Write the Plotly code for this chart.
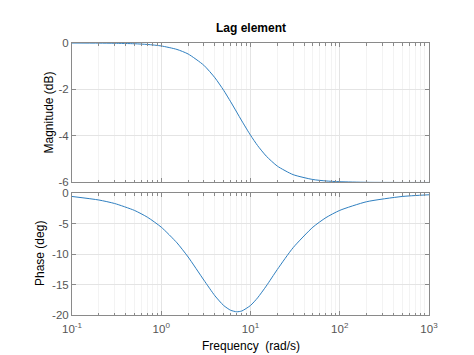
import plotly.graph_objects as go

# Data
freq = [0.1, 0.2, 0.3, 0.5, 0.7, 1, 1.5, 2, 3, 4, 5, 6, 7, 8, 10, 12, 15, 20, 30, 50, 70, 100, 200, 500, 1000]
magnitude_db = [-0.001, -0.005, -0.012, -0.032, -0.063, -0.127, -0.278, -0.474, -0.961, -1.504, -2.041,
                -2.539, -2.981, -3.366, -3.979, -4.426, -4.881, -5.315, -5.682, -5.893, -5.955, -5.988,
                -6.013, -6.020, -6.020]
phase_deg = [-0.57, -1.15, -1.72, -2.85, -3.97, -5.60, -8.17, -10.49, -14.27, -16.86, -18.44, -19.23,
             -19.47, -19.34, -18.44, -17.19, -15.26, -12.53, -8.97, -5.60, -4.04, -2.85, -1.43, -0.57, -0.29]

x_tickvals = [0.1, 1, 10, 100, 1000]
x_ticktext = ["10<sup>-1</sup>", "10<sup>0</sup>", "10<sup>1</sup>", "10<sup>2</sup>", "10<sup>3</sup>"]
mag_ticks = [0, -2, -4, -6]
phase_ticks = [0, -5, -10, -15, -20]

minor_vals = [m * 10 ** e for e in range(-1, 3) for m in range(2, 10)]

OFF = 8  # page body margin
W, H = 474 - OFF, 355 - OFF
def px(p):
    return (p - OFF) / W
def py(p):
    return 1 - (p - OFF) / H

fig = go.Figure()
line = dict(color="#2f7fc0", width=1, shape="spline", smoothing=0.6)
fig.add_trace(go.Scatter(x=freq, y=magnitude_db, mode="lines", line=line, xaxis="x", yaxis="y", showlegend=False))
fig.add_trace(go.Scatter(x=freq, y=phase_deg, mode="lines", line=line, xaxis="x2", yaxis="y2", showlegend=False))

font_family = "Liberation Sans, Arial, sans-serif"
axcol = "#8a8a8a"
common_x = dict(
    type="log", range=[-1, 3], tickmode="array", tickvals=x_tickvals, automargin=False,
    showline=True, linecolor=axcol, linewidth=1, mirror="ticks",
    ticks="inside", ticklen=4, tickcolor=axcol,
    showgrid=True, gridcolor="#e4e4e4", gridwidth=1, zeroline=False,
    minor=dict(tickmode="array", tickvals=minor_vals, ticks="inside", ticklen=2.5,
               tickcolor=axcol, showgrid=True, gridcolor="#f3f3f3", gridwidth=1),
    tickfont=dict(family=font_family, size=11.5, color="#555555"),
)
common_y = dict(
    showline=True, linecolor=axcol, linewidth=1, mirror="ticks", automargin=False,
    ticks="inside", ticklen=4, tickcolor=axcol,
    showgrid=True, gridcolor="#e4e4e4", gridwidth=1, zeroline=False,
    tickfont=dict(family=font_family, size=11.5, color="#555555"),
    tickmode="array",
)

xd = [px(72), px(429)]
fig.update_layout(
    width=W, height=H, margin=dict(l=0, r=0, t=0, b=0, autoexpand=False),
    paper_bgcolor="white", plot_bgcolor="white",
    xaxis=dict(common_x, domain=xd, anchor="y", showticklabels=False, matches="x2"),
    yaxis=dict(common_y, domain=[py(182), py(43)], anchor="x", range=[-6, 0], tickvals=mag_ticks,
               ticktext=[str(v) for v in mag_ticks]),
    xaxis2=dict(common_x, domain=xd, anchor="y2", ticktext=x_ticktext, ticklabelstandoff=3),
    yaxis2=dict(common_y, domain=[py(315), py(193)], anchor="x2", range=[-20, 0], tickvals=phase_ticks,
                ticktext=[str(v) for v in phase_ticks]),
    font=dict(family=font_family),
)

ann = [
    dict(text="<b>Lag element</b>", x=px(250.5), y=py(28), font=dict(size=12, color="#000000")),
    dict(text="Magnitude (dB)", x=px(48), y=py(112.5), textangle=-90, font=dict(size=12, color="#000000")),
    dict(text="Phase (deg)", x=px(40), y=py(254), textangle=-90, font=dict(size=12, color="#000000")),
    dict(text="Frequency  (rad/s)", x=px(250.5), y=py(346), font=dict(size=12, color="#000000")),
]
for a in ann:
    a.update(xref="paper", yref="paper", showarrow=False, xanchor="center", yanchor="middle")
    a["font"]["family"] = font_family
fig.update_layout(annotations=ann)

fig.write_html("out.html")
